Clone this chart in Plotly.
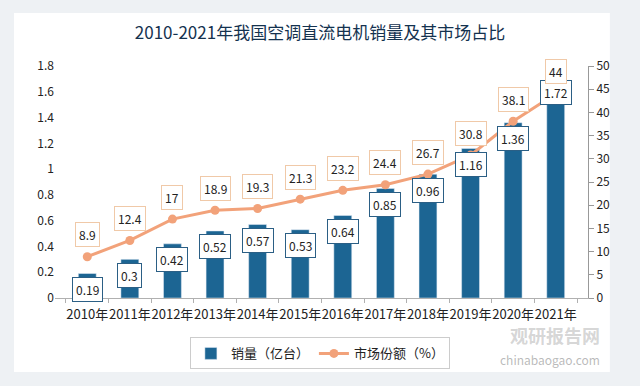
import plotly.graph_objects as go

years = ["2010年", "2011年", "2012年", "2013年", "2014年", "2015年",
         "2016年", "2017年", "2018年", "2019年", "2020年", "2021年"]
sales = [0.19, 0.3, 0.42, 0.52, 0.57, 0.53, 0.64, 0.85, 0.96, 1.16, 1.36, 1.72]
share = [8.9, 12.4, 17, 18.9, 19.3, 21.3, 23.2, 24.4, 26.7, 30.8, 38.1, 44]

BAR = "#1c6593"
LINE = "#f2a27a"
FONT = "Noto Sans CJK SC"

fig = go.Figure()
fig.add_trace(go.Bar(x=years, y=sales, name="销量（亿台）", marker_color=BAR,
                     width=0.42, yaxis="y"))
fig.add_trace(go.Scatter(x=years, y=share, name="市场份额（%）", mode="lines+markers",
                         line=dict(color=LINE, width=3),
                         marker=dict(color=LINE, size=9, symbol="circle"),
                         yaxis="y2"))

ann = []
for x, v in zip(years, sales):
    ann.append(dict(x=x, y=v, xref="x", yref="y", text=str(v), showarrow=False,
                    yshift=-16, bgcolor="white", bordercolor="#2b5f85", borderwidth=1,
                    borderpad=3, font=dict(size=12, color="#222", family=FONT)))
for x, v in zip(years, share):
    ann.append(dict(x=x, y=v, xref="x", yref="y2", text=str(v), showarrow=False,
                    yshift=22, bgcolor="white", bordercolor="#f0c9a8", borderwidth=1,
                    borderpad=3, font=dict(size=12, color="#222", family=FONT)))
ann.append(dict(x=1.025, y=-0.1, xref="paper", yref="paper", xanchor="right",
                yanchor="top", text="<b>观研报告网</b>", showarrow=False, borderpad=0,
                font=dict(size=18, color="rgba(150,150,150,0.4)", family=FONT)))
ann.append(dict(x=1.025, y=-0.225, xref="paper", yref="paper", xanchor="right",
                yanchor="top", text="chinabaogao.com", showarrow=False, borderpad=0,
                font=dict(size=12, color="rgba(140,140,140,0.6)", family=FONT)))

fig.update_layout(
    width=640, height=386,
    margin=dict(l=55, r=52, t=66, b=88),
    paper_bgcolor="#eef1f4",
    plot_bgcolor="#f3f3f3",
    title=dict(text="2010-2021年我国空调直流电机销量及其市场占比", x=0.5, xanchor="center",
               y=0.915, yanchor="middle",
               font=dict(size=17, color="#14324f", family=FONT)),
    font=dict(family=FONT, size=12, color="#222"),
    xaxis=dict(showline=True, linecolor="#b0b0b0", ticks="outside", tickson="boundaries",
               ticklen=4, tickcolor="#b0b0b0", ticklabelstandoff=4, tickangle=0,
               tickfont=dict(size=13), showgrid=False),
    yaxis=dict(range=[0, 1.8], dtick=0.2, showgrid=False, zeroline=False,
               tickfont=dict(size=12), ticks="", tickformat="~g"),
    yaxis2=dict(range=[0, 50], dtick=5, overlaying="y", side="right", showgrid=False,
                zeroline=False, showline=True, linecolor="#999", ticks="outside",
                ticklen=5, tickcolor="#999", tickfont=dict(size=12)),
    legend=dict(orientation="h", x=0.497, xanchor="center", y=-0.17, yanchor="top",
                bordercolor="#cccccc", borderwidth=1, bgcolor="white",
                font=dict(size=13)),
    annotations=ann,
    shapes=[dict(type="rect", xref="paper", yref="paper", x0=-0.077, x1=1.041,
                 y0=-0.319, y1=1.228, fillcolor="white", line=dict(width=0),
                 layer="below")],
    bargap=0.5,
)
fig.write_html("out.html", config={"displayModeBar": False},
               post_script="document.body.style.margin='0';document.body.style.overflow='hidden';")
